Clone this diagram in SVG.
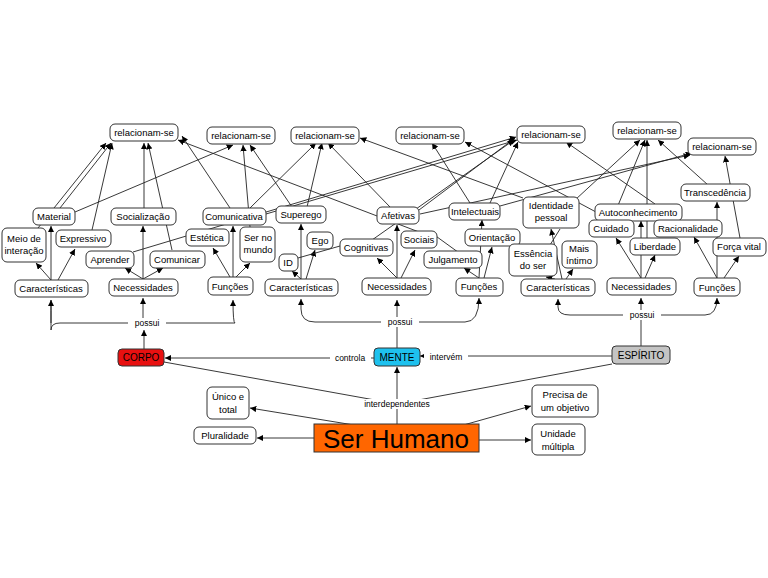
<svg xmlns="http://www.w3.org/2000/svg" width="768" height="578" viewBox="0 0 768 578">
<defs><marker id="a" viewBox="0 0 10 10" refX="10" refY="5" markerWidth="7" markerHeight="7" orient="auto"><path d="M0,0L10,5L0,10z" fill="#000"/></marker></defs>
<style>
.n rect{fill:#fff;stroke:#333;stroke-width:1}
text{font-family:"Liberation Sans",Arial,sans-serif;font-size:9.5px;fill:#000;text-anchor:middle}
#c path{fill:none;stroke:#222;stroke-width:0.9;marker-end:url(#a)}
#c path.p{marker-end:none}
.l{font-size:8.5px}
</style>
<rect width="768" height="578" fill="#fff"/>
<g id="c">
<path d="M144,349V330"/>
<path d="M51,330Q51,323 60,323H235Q233,323 233,300" />
<path d="M51,330Q51,323 51,300" class="p"/>
<path d="M51,323V300"/>
<path d="M143,323V298"/>
<path d="M397,349V300"/>
<path d="M301,309Q301,322 315,322H465Q479,322 479,298"/>
<path d="M301,309V299"/>
<path d="M641,346V298"/>
<path d="M558,307Q558,315 570,315H705Q717,315 717,298"/>
<path d="M558,307V299"/>
<path d="M612,356H420"/>
<path d="M374,358H165"/>
<path d="M164,362L397,404L612,364" class="p"/>
<path d="M397,424V367"/>
<path d="M360,426L250,408"/>
<path d="M316,438H257"/>
<path d="M460,426L531,406"/>
<path d="M479,440H531"/>
<path d="M51,280L36,263"/><path d="M51,280V226"/><path d="M58,280L75,249"/>
<path d="M143,279L125,268"/><path d="M143,279V226"/><path d="M143,279L163,268"/>
<path d="M230,277L213,248"/><path d="M233,277V226"/><path d="M236,277L250,263"/>
<path d="M301,279L292,271"/><path d="M301,279V224"/><path d="M306,279L315,250"/>
<path d="M397,278L377,258"/><path d="M397,278V225"/><path d="M401,278L415,250"/>
<path d="M479,278L464,268"/><path d="M479,278L482,220"/><path d="M484,278L492,247"/>
<path d="M555,279L546,277"/><path d="M562,279L551,229"/><path d="M566,279L573,269"/>
<path d="M641,278L616,238"/><path d="M641,278V221"/><path d="M645,278L655,255"/>
<path d="M717,278L694,237"/><path d="M717,278V202"/><path d="M724,278L739,256"/>
<path d="M38,228L106,143"/><path d="M60,208L111,143"/><path d="M92,230L112,143"/>
<path d="M144,208V143"/><path d="M172,250L148,143"/>
<path d="M230,208L182,136"/><path d="M419,232L178,140"/>
<path d="M75,212L233,145"/><path d="M250,227L243,145"/><path d="M292,207L250,145"/>
<path d="M250,208L316,143"/><path d="M307,207L322,143"/><path d="M390,207L328,143"/><path d="M523,198L360,138"/>
<path d="M470,203L432,143"/><path d="M596,212L465,142"/>
<path d="M133,252L516,137"/><path d="M266,214L517,140"/><path d="M419,210L515,138"/><path d="M372,240L514,140"/><path d="M490,203L518,142"/><path d="M655,204L566,142"/>
<path d="M575,200L640,140"/><path d="M612,220L645,140"/><path d="M647,238V140"/><path d="M708,185L658,140"/>
<path d="M740,238L725,156"/><path d="M420,214L690,155"/><path d="M500,206L692,153"/>
<path d="M298,258L340,246" class="p"/><path d="M433,234L462,255" class="p"/><path d="M550,245L560,229" class="p"/>
</g>
<g id="rel1" class="n"><rect x="110" y="124" width="68" height="17" rx="5"/><text x="144" y="136">relacionam-se</text></g>
<g id="rel2" class="n"><rect x="207" y="127" width="68" height="17" rx="5"/><text x="241" y="139">relacionam-se</text></g>
<g id="rel3" class="n"><rect x="291" y="127" width="68" height="17" rx="5"/><text x="325" y="139">relacionam-se</text></g>
<g id="rel4" class="n"><rect x="396" y="127" width="68" height="17" rx="5"/><text x="430" y="139">relacionam-se</text></g>
<g id="rel5" class="n"><rect x="517" y="126" width="68" height="17" rx="5"/><text x="551" y="138">relacionam-se</text></g>
<g id="rel6" class="n"><rect x="613" y="122" width="68" height="17" rx="5"/><text x="647" y="134">relacionam-se</text></g>
<g id="rel7" class="n"><rect x="688" y="138" width="68" height="17" rx="5"/><text x="722" y="150">relacionam-se</text></g>
<g id="material" class="n"><rect x="33" y="208" width="42" height="17" rx="5"/><text x="54" y="220">Material</text></g>
<g id="socializacao" class="n"><rect x="111" y="208" width="65" height="17" rx="5"/><text x="143" y="220">Socialização</text></g>
<g id="comunicativa" class="n"><rect x="203" y="208" width="63" height="17" rx="5"/><text x="234" y="220">Comunicativa</text></g>
<g id="superego" class="n"><rect x="276" y="206" width="50" height="17" rx="5"/><text x="301" y="218">Superego</text></g>
<g id="afetivas" class="n"><rect x="377" y="207" width="42" height="17" rx="5"/><text x="398" y="219">Afetivas</text></g>
<g id="intelectuais" class="n"><rect x="449" y="203" width="51" height="17" rx="5"/><text x="475" y="215">Intelectuais</text></g>
<g id="identidade" class="n"><rect x="523" y="197" width="56" height="31" rx="5"/><text x="551" y="209">Identidade</text><text x="551" y="221">pessoal</text></g>
<g id="autocon" class="n"><rect x="595" y="204" width="87" height="17" rx="5"/><text x="638" y="216">Autoconhecimento</text></g>
<g id="transced" class="n"><rect x="681" y="184" width="69" height="17" rx="5"/><text x="715" y="196">Transcedência</text></g>
<g id="meio" class="n"><rect x="2" y="228" width="44" height="34" rx="5"/><text x="24" y="242">Meio de</text><text x="24" y="254">interação</text></g>
<g id="expressivo" class="n"><rect x="56" y="230" width="55" height="17" rx="5"/><text x="83" y="242">Expressivo</text></g>
<g id="estetica" class="n"><rect x="186" y="229" width="43" height="17" rx="5"/><text x="207" y="241">Estética</text></g>
<g id="sernomundo" class="n"><rect x="240" y="227" width="35" height="35" rx="5"/><text x="258" y="241">Ser no</text><text x="258" y="253">mundo</text></g>
<g id="ego" class="n"><rect x="307" y="232" width="26" height="17" rx="5"/><text x="320" y="244">Ego</text></g>
<g id="cognitivas" class="n"><rect x="340" y="239" width="53" height="17" rx="5"/><text x="366" y="251">Cognitivas</text></g>
<g id="sociais" class="n"><rect x="401" y="231" width="36" height="17" rx="5"/><text x="419" y="243">Sociais</text></g>
<g id="orientacao" class="n"><rect x="465" y="229" width="55" height="17" rx="5"/><text x="492" y="241">Orientação</text></g>
<g id="cuidado" class="n"><rect x="589" y="220" width="45" height="17" rx="5"/><text x="611" y="232">Cuidado</text></g>
<g id="racional" class="n"><rect x="654" y="220" width="68" height="17" rx="5"/><text x="688" y="232">Racionalidade</text></g>
<g id="essencia" class="n"><rect x="509" y="244" width="48" height="32" rx="5"/><text x="533" y="257">Essência</text><text x="533" y="269">do ser</text></g>
<g id="maisintimo" class="n"><rect x="562" y="241" width="35" height="27" rx="5"/><text x="579" y="252">Mais</text><text x="579" y="264">íntimo</text></g>
<g id="liberdade" class="n"><rect x="630" y="238" width="50" height="17" rx="5"/><text x="655" y="250">Liberdade</text></g>
<g id="forca" class="n"><rect x="713" y="238" width="53" height="18" rx="5"/><text x="739" y="250">Força vital</text></g>
<g id="aprender" class="n"><rect x="86" y="251" width="48" height="17" rx="5"/><text x="110" y="263">Aprender</text></g>
<g id="comunicar" class="n"><rect x="150" y="251" width="55" height="17" rx="5"/><text x="177" y="263">Comunicar</text></g>
<g id="id" class="n"><rect x="279" y="254" width="19" height="17" rx="5"/><text x="288" y="266">ID</text></g>
<g id="julgamento" class="n"><rect x="424" y="251" width="58" height="17" rx="5"/><text x="453" y="263">Julgamento</text></g>
<g id="car1" class="n"><rect x="15" y="280" width="73" height="17" rx="5"/><text x="51" y="292">Características</text></g>
<g id="nec1" class="n"><rect x="109" y="279" width="69" height="17" rx="5"/><text x="143" y="291">Necessidades</text></g>
<g id="fun1" class="n"><rect x="208" y="277" width="45" height="18" rx="5"/><text x="230" y="290">Funções</text></g>
<g id="car2" class="n"><rect x="265" y="279" width="73" height="17" rx="5"/><text x="301" y="291">Características</text></g>
<g id="nec2" class="n"><rect x="362" y="278" width="69" height="17" rx="5"/><text x="397" y="290">Necessidades</text></g>
<g id="fun2" class="n"><rect x="456" y="278" width="47" height="18" rx="5"/><text x="479" y="290">Funções</text></g>
<g id="car3" class="n"><rect x="521" y="279" width="74" height="17" rx="5"/><text x="558" y="291">Características</text></g>
<g id="nec3" class="n"><rect x="607" y="278" width="69" height="17" rx="5"/><text x="641" y="290">Necessidades</text></g>
<g id="fun3" class="n"><rect x="694" y="278" width="46" height="18" rx="5"/><text x="717" y="291">Funções</text></g>
<g id="labels">
<rect x="128" y="318" width="38" height="10" fill="#fff"/><text class="l" x="147" y="326">possui</text>
<rect x="381" y="317" width="38" height="10" fill="#fff"/><text class="l" x="400" y="325">possui</text>
<rect x="623" y="310" width="38" height="10" fill="#fff"/><text class="l" x="642" y="318">possui</text>
<rect x="330" y="353" width="41" height="10" fill="#fff"/><text class="l" x="350" y="361">controla</text>
<rect x="424" y="352" width="44" height="10" fill="#fff"/><text class="l" x="446" y="360">intervém</text>
<rect x="358" y="399" width="78" height="10" fill="#fff"/><text class="l" x="397" y="407">interdependentes</text>
</g>
<g id="corpo"><rect x="118" y="349" width="46" height="17" rx="4" fill="#e81010" stroke="#333"/><text x="141" y="361" style="font-size:10px">CORPO</text></g>
<g id="mente"><rect x="374" y="348" width="46" height="18" rx="4" fill="#1ec1ee" stroke="#333"/><text x="397" y="361" style="font-size:10px">MENTE</text></g>
<g id="espirito"><rect x="612" y="346" width="58" height="18" rx="4" fill="#c4c4c4" stroke="#333"/><text x="641" y="359" style="font-size:10px">ESPÍRITO</text></g>
<g id="unico" class="n"><rect x="207" y="387" width="42" height="32" rx="5"/><text x="228" y="400">Único e</text><text x="228" y="413">total</text></g>
<g id="pluralidade" class="n"><rect x="194" y="427" width="62" height="17" rx="5"/><text x="225" y="439">Pluralidade</text></g>
<g id="precisa" class="n"><rect x="532" y="385" width="66" height="32" rx="5"/><text x="565" y="398">Precisa de</text><text x="565" y="411">um objetivo</text></g>
<g id="unidade" class="n"><rect x="532" y="424" width="53" height="31" rx="5"/><text x="558" y="437">Unidade</text><text x="558" y="450">múltipla</text></g>
<g id="serhumano"><rect x="314" y="424" width="165" height="28" fill="#ff6600" stroke="#333"/><text x="396" y="448" style="font-size:26px">Ser Humano</text></g>
</svg>
